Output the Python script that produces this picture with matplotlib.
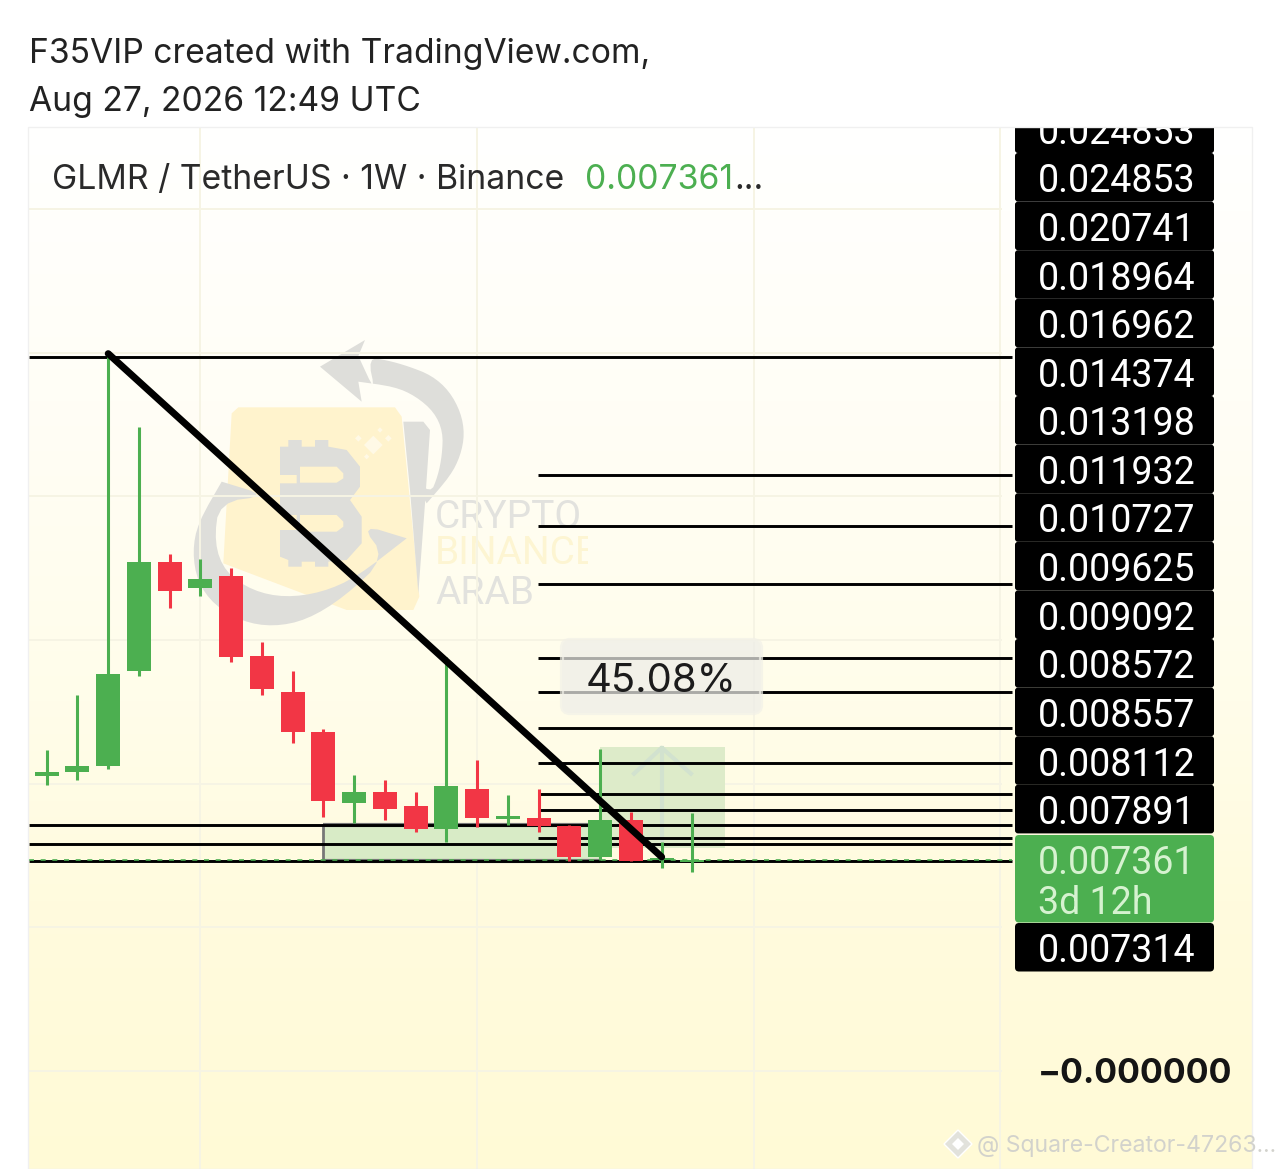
import numpy as np
import matplotlib
matplotlib.use("Agg")
import matplotlib.pyplot as plt
from matplotlib.patches import Polygon, FancyBboxPatch, Rectangle

# ---- data -----------------------------------------------------------------
opens = [.010282,.010401,.010606,.013913,.017717,.016802,.017223,.014445,.013192,.011803,
         .009318,.009701,.009214,.008413,.009816,.008772,.008817,.008538,.007438,.008726,.007340,.007290]
closes = [.010425,.010606,.013819,.017717,.016694,.017115,.014418,.013290,.011803,.009409,
          .009701,.009109,.008413,.009920,.008817,.008866,.008538,.007438,.008726,.007320,.007425,.007361]
highs = [.011180,.013098,.024992,.022416,.018013,.017808,.017508,.014922,.013937,.011904,
         .010303,.010129,.009701,.014421,.010825,.009607,.009805,.008563,.011208,.009005,.007982,.008991]
lows = [.009948,.010140,.010522,.013760,.016130,.016537,.014236,.013098,.011420,.008841,
        .008632,.008737,.008330,.007982,.008504,.008563,.008309,.007310,.007344,.007320,.007066,.006937]
long_levels = [.024853,.008572,.007891,.007314]
short_levels = [.020741,.018964,.016962,.014374,.013198,.011932,.010727,.009625,.009092,.008112]
stack_labels = ["0.024853","0.024853","0.020741","0.018964","0.016962","0.014374","0.013198",
                "0.011932","0.010727","0.009625","0.009092","0.008572","0.008557","0.008112","0.007891"]
last_price = "0.007361"
countdown = "3d 12h"
last_label = "0.007314"
zero_label = "\u22120.000000"
trend_x = [2, 20]
trend_y = [.02497, .00745]
grid_prices = [0, .005, .01, .015, .02, .025, .03]
grid_weeks = [5, 14, 23, 31]

GREEN, RED = "#4CAF50", "#F23645"
FONT = "Inter"
NUM = "Roboto"
plt.rcParams["font.family"] = [FONT, "DejaVu Sans"]
W, H = 1280, 1169
fig = plt.figure(figsize=(W/100, H/100), dpi=100, facecolor="white")
PL, PR, PT, PB = 28, 1252, 127, 1169
pos = [PL/W, 0, (PR-PL)/W, (PB-PT)/H]

# ---- pane background + watermark ------------------------------------------
bg = fig.add_axes(pos, zorder=0); bg.set_xlim(PL, PR); bg.set_ylim(PB, PT); bg.axis("off")
stops_y = [127, 210, 400, 700, 900, 1169]
stops_c = [(255,255,255),(255,255,252),(255,254,246),(255,253,234),(255,251,222),(255,250,214)]
ys = np.arange(PT, PB)
grad = np.stack([np.interp(ys, stops_y, [c[k] for c in stops_c]) for k in range(3)], axis=1)[:, None, :]/255
bg.imshow(grad, extent=[PL, PR, PB, PT], aspect="auto", zorder=0)
bg.set_xlim(PL, PR); bg.set_ylim(PB, PT)
GOLD, GRAY = "#FFF3CD", "#DEDEDA"
def z(pts):
    return [(180+x/3, 330+y/3) for x, y in pts]
def smooth(pts, n=3):
    p = np.array(pts, float)
    for _ in range(n):
        q = np.empty((2*len(p), 2))
        q[0::2] = .75*p + .25*np.roll(p, -1, axis=0)
        q[1::2] = .25*p + .75*np.roll(p, -1, axis=0)
        p = q[:-1]
        p = np.vstack([pts[0], p[1:], pts[-1]])
    return [tuple(v) for v in p]
bg.add_patch(Polygon(z([(175,232),(645,232),(665,260),(718,800),(700,840),(500,840),(130,700),(155,250)]), fc=GOLD, ec="none", zorder=2))
bg.add_patch(Polygon(z([(670,275),(730,275),(750,300),(735,520),(715,790),(690,480)]), fc=GRAY, ec="none", zorder=2))
arc = smooth([(535,155),(680,175),(790,270),(785,410),(740,520)]) + smooth([(740,520),(835,410),(860,280),(790,150),(650,95),(535,78)])
bg.add_patch(Polygon(z([(555,30),(420,110),(545,215)] + arc), fc=GRAY, ec="none", zorder=3))
cres = smooth([(125,455),(30,620),(60,800),(230,900),(430,860),(680,625)]) + smooth([(680,625),(480,780),(260,810),(95,700),(125,455)])
bg.add_patch(Polygon(z(cres), fc=GRAY, ec="none", zorder=3))
bg.add_patch(Polygon(z([(300,350),(325,350),(325,330),(365,330),(365,350),(405,350),(405,330),(445,330),(445,350),(500,360),
                        (540,410),(540,470),(510,510),(545,560),(545,640),(500,690),(445,695),(445,710),(405,710),(405,695),
                        (365,695),(365,710),(325,710),(325,690),(300,680),(300,600),(350,600),(350,555),(300,555),(300,460),
                        (350,460),(350,435),(300,435)]), fc=GRAY, ec="none", zorder=3))
for pts in ([(360,410),(470,410),(490,430),(490,445),(470,458),(360,458)], [(360,555),(470,555),(490,575),(490,590),(470,605),(360,605)]):
    bg.add_patch(Polygon(z(pts), fc=GOLD, ec="none", zorder=4))
for cx, cy, r in [(580,345,28),(625,325,10),(535,325,10),(600,300,8),(560,380,8)]:
    bg.add_patch(Polygon(z([(cx-r,cy),(cx,cy-r),(cx+r,cy),(cx,cy+r)]), fc="#FFF9E6", ec="none", zorder=4))
for txt, y, col in [("CRYPTO", 517, "#E2E2DE"), ("BINANCE", 554, "#FDF5D2"), ("ARAB", 593, "#E2E2DE")]:
    t = bg.text(435, y, txt, fontsize=28, color=col, va="center", ha="left", family="Roboto", zorder=3, clip_on=True)
    t.set_clip_path(Rectangle((435, 480), 153, 130, transform=bg.transData))

# ---- chart ----------------------------------------------------------------
ax = fig.add_axes(pos, zorder=1)
ax.patch.set_alpha(0)
PX_X0, PX_DX = 46.7, 30.75
PX_Y0, PX_DY = 1071, 28729
ax.set_xlim((PL-PX_X0)/PX_DX, (PR-PX_X0)/PX_DX)
ax.set_ylim((PX_Y0-PB)/PX_DY, (PX_Y0-PT)/PX_DY)
ax.axis("off")
xmin_lvl = (29-PX_X0)/PX_DX
xmax_lvl = (1012-PX_X0)/PX_DX
xmid_lvl = (538-PX_X0)/PX_DX
xs = np.arange(len(opens))

ax.hlines(grid_prices, xmin_lvl, (1002-PX_X0)/PX_DX, color="#F6F4E4", lw=1.4, zorder=1)
ax.vlines(grid_weeks, *ax.get_ylim(), color="#F6F4E4", lw=1.4, zorder=1)

o, c, hi, lo = map(np.array, (opens, closes, highs, lows))
colors = [GREEN if b >= a else RED for a, b in zip(o, c)]
# long-position tool
ax.add_patch(Rectangle((9, .007314), 9, .008572-.007314, fc="#D8EBC6", ec="none", zorder=2))
ax.add_patch(Rectangle((18, .00776), 4.05, .01129-.00776, fc="#DDEBC9", ec="none", zorder=2))
ax.plot([9, 9], [.007314, .008572], color="#777777", lw=2, zorder=3)
ax.hlines([.008572, .007314], 9, 18, color="#777777", lw=3, zorder=3)
ax.plot([20, 20], [.00805, .01125], color="#D2E2CF", lw=3, zorder=3)
ax.plot([19.1, 20, 20.95], [.01035, .01125, .01035], color="#D2E2CF", lw=3, zorder=3)

ax.hlines(long_levels, xmin_lvl, xmax_lvl, color="black", lw=2.1, zorder=4)
ax.hlines(short_levels, xmid_lvl, xmax_lvl, color="black", lw=2.1, zorder=4)
ax.hlines(float(last_price), xmin_lvl, xmax_lvl, color=GREEN, lw=1.2, linestyles=(0, (3, 4)), zorder=5)

ax.vlines(xs, lo, hi, colors=colors, lw=2.2, zorder=6)
ax.bar(xs, np.abs(c-o), bottom=np.minimum(o, c), width=0.78, color=colors, zorder=7)
ax.plot(trend_x, trend_y, color="black", lw=5.0, solid_capstyle="round", zorder=8)

# ---- overlay: value stack, labels -----------------------------------------
ov = fig.add_axes(pos, zorder=2); ov.patch.set_alpha(0); ov.axis("off")
ov.set_xlim(PL, PR); ov.set_ylim(PB, PT)
ov.add_patch(FancyBboxPatch((562, 640), 199, 73, boxstyle="round,pad=0,rounding_size=8",
                            fc="#EDEDE8", ec="#F2F1E8", lw=3, alpha=0.72, zorder=1))
ov.text(661, 682, "45.08%", fontsize=28.8, color="#1c1c1c", ha="center", va="center", zorder=2)

LBL = dict(fontsize=27, ha="left", va="center", zorder=4, family=NUM)
LEFT, RIGHT = 1015, 1214
STEP = 48.6
top0 = 128.7
TXT_DY = 4.5
for k, s in enumerate(stack_labels):
    yc = top0 + k*STEP
    ov.add_patch(FancyBboxPatch((LEFT, yc-STEP/2), RIGHT-LEFT, STEP, boxstyle="round,pad=0,rounding_size=3",
                                fc="black", ec="none", zorder=3))
    ov.text(1038, yc+TXT_DY, s, color="white", **LBL)
ov.add_patch(FancyBboxPatch((LEFT, 835), RIGHT-LEFT, 87.5, boxstyle="round,pad=0,rounding_size=4",
                            fc=GREEN, ec="none", zorder=3))
ov.text(1038, 863, last_price, color="#D6F2D0", **LBL)
ov.text(1038, 903, countdown, color="#D6F2D0", **LBL)
ov.add_patch(FancyBboxPatch((LEFT, 923), RIGHT-LEFT, 48.5, boxstyle="round,pad=0,rounding_size=4",
                            fc="black", ec="none", zorder=3))
ov.text(1038, 951, last_label, color="white", **LBL)
ov.text(1038, 1074, zero_label, fontsize=24.5, fontweight="bold", color="#151515", ha="left", va="center", zorder=4)

# legend line
ov.text(52, 180, "GLMR / TetherUS \u00b7 1W \u00b7 Binance", fontsize=24.3, color="#2a2a2a", ha="left", va="center", zorder=4)
ov.text(585, 180, "0.007361", fontsize=24.3, color=GREEN, ha="left", va="center", zorder=4)
ov.text(734, 180, "...", fontsize=24.3, color="#2a2a2a", ha="left", va="center", zorder=4)

# titles
fig.text(29/W, 1-54/H, "F35VIP created with TradingView.com,", fontsize=24.2, color="#222222", ha="left", va="center")
fig.text(29/W, 1-102/H, "Aug 27, 2026 12:49 UTC", fontsize=24.2, color="#222222", ha="left", va="center")

# pane border
ov.add_patch(Rectangle((PL, PT), PR-PL, PB-PT, fc="none", ec="#F0F0F0", lw=1, zorder=5, clip_on=False))

# corner credit
cx, cy = 958, 1144
fig.patches.append(Polygon([((cx-14)/W, 1-cy/H), (cx/W, 1-(cy-14)/H), ((cx+14)/W, 1-cy/H), (cx/W, 1-(cy+14)/H)],
                           closed=True, fc="#E2E2DC", ec="white", lw=1.0, transform=fig.transFigure, zorder=10))
fig.patches.append(Polygon([((cx-6)/W, 1-cy/H), (cx/W, 1-(cy-6)/H), ((cx+6)/W, 1-cy/H), (cx/W, 1-(cy+6)/H)],
                           closed=True, fc="white", ec="none", transform=fig.transFigure, zorder=11))
fig.text(977/W, 1-1146/H, "@ Square-Creator-47263...", fontsize=16.6, color="#D2D2CC", ha="left", va="center", zorder=12)

fig.savefig("out.png", dpi=100)
